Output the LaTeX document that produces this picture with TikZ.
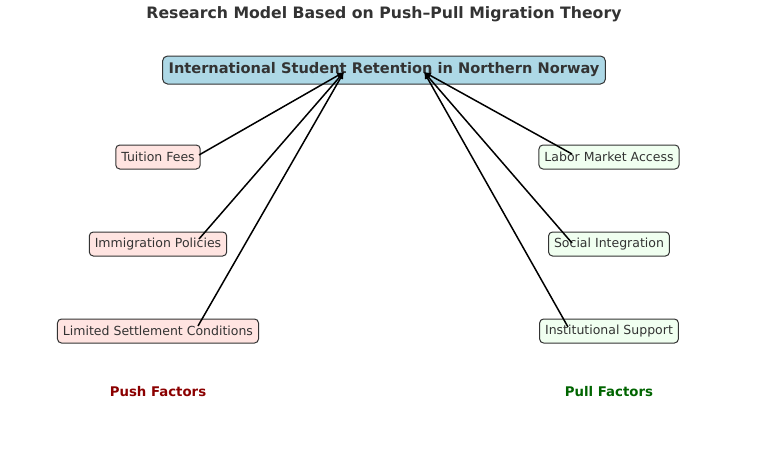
\documentclass[tikz,border=0pt]{standalone}
\usepackage{fontspec}
\setmainfont{DejaVu Sans}
\usetikzlibrary{arrows.meta}
\definecolor{txt}{HTML}{333333}
\definecolor{pushfill}{HTML}{FFE4E1}
\definecolor{pullfill}{HTML}{F0FFF0}
\definecolor{mainfill}{HTML}{ADD8E6}
\definecolor{pushtxt}{HTML}{8B0000}
\definecolor{pulltxt}{HTML}{006400}
\tikzset{
  factor/.style={draw=txt, line width=1pt, rounded corners=4pt, text=txt,
    inner xsep=5.5pt, inner ysep=0pt, minimum height=24pt,
    font=\fontsize{12.5}{15}\selectfont},
  pushbox/.style={factor, fill=pushfill},
  pullbox/.style={factor, fill=pullfill},
  mainbox/.style={draw=txt, line width=1pt, rounded corners=5pt, fill=mainfill, text=txt,
    inner xsep=6pt, inner ysep=0pt, minimum height=28pt,
    font=\fontsize{14.6}{17}\selectfont\bfseries},
  link/.style={line width=1.5pt, -{Latex[length=7pt,width=6pt]}}
}
\begin{document}
\begin{tikzpicture}[x=1pt,y=-1pt]
\useasboundingbox (0,0) rectangle (768,471);
\node[text=txt, font=\fontsize{15.7}{18}\selectfont\bfseries] (title) at (384,14) {Research Model Based on Push–Pull Migration Theory};
\node[mainbox] (main) at (384,70) {International Student Retention in Northern Norway};

\node[pushbox] (tf) at (158,157) {Tuition Fees};
\node[pushbox] (ip) at (158,244) {Immigration Policies};
\node[pushbox] (ls) at (158,331) {Limited Settlement Conditions};

\node[pullbox] (lm) at (609,157) {Labor Market Access};
\node[pullbox] (si) at (609,244) {Social Integration};
\node[pullbox] (is) at (609,331) {Institutional Support};

\node[text=pushtxt, font=\fontsize{13.3}{16}\selectfont\bfseries] (push) at (158,392) {Push Factors};
\node[text=pulltxt, font=\fontsize{13.3}{16}\selectfont\bfseries] (pull) at (609,392) {Pull Factors};

\coordinate (tipL) at (344,72);
\coordinate (tipR) at (424,72);
\coordinate (stf) at ([shift={(41,-2)}]tf.center);
\coordinate (sip) at ([shift={(41,-5)}]ip.center);
\coordinate (sls) at ([shift={(40,-5)}]ls.center);
\coordinate (slm) at ([shift={(-37,-3)}]lm.center);
\coordinate (ssi) at ([shift={(-37,-1)}]si.center);
\coordinate (sis) at ([shift={(-41,-4)}]is.center);

\draw[link] (stf) -- (tipL);
\draw[link] (sip) -- (tipL);
\draw[link] (sls) -- (tipL);
\draw[link] (slm) -- (tipR);
\draw[link] (ssi) -- (tipR);
\draw[link] (sis) -- (tipR);
\end{tikzpicture}
\end{document}
